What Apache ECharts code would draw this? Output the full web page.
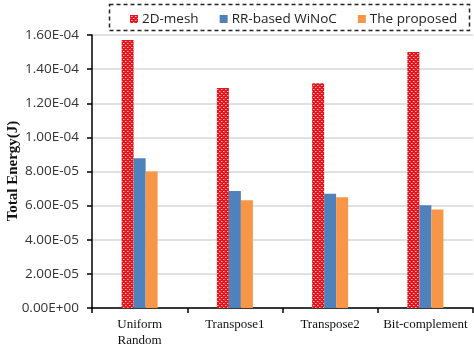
<!DOCTYPE html>
<html>
<head>
<meta charset="utf-8">
<script src="https://cdn.jsdelivr.net/npm/echarts@6/dist/echarts.min.js"></script>
<style>
  html, body { margin: 0; padding: 0; background: #fff; }
  #chart { width: 474px; height: 347px; }
</style>
</head>
<body>
<div id="chart"></div>
<script>
// Traffic patterns on the x axis
const categories = ['Uniform\nRandom', 'Transpose1', 'Transpose2', 'Bit-complement'];
// Total energy per architecture (J)
const mesh2D   = [1.57e-4, 1.29e-4, 1.317e-4, 1.50e-4];
const rrWiNoC  = [0.877e-4, 0.686e-4, 0.670e-4, 0.602e-4];
const proposed = [0.800e-4, 0.631e-4, 0.649e-4, 0.578e-4];
const seriesNames = ['2D-mesh', 'RR-based WiNoC', 'The proposed'];
const yAxisTitle = 'Total Energy(J)';
// Y tick labels, from 0 upward in steps of 2E-05
const yTickLabels = ['0.00E+00', '2.00E-05', '4.00E-05', '6.00E-05', '8.00E-05',
                     '1.00E-04', '1.20E-04', '1.40E-04', '1.60E-04'];

// Red dotted fill used for the 2D-mesh bars
function makeDotPattern() {
  const c = document.createElement('canvas');
  c.width = 4; c.height = 4;
  const g = c.getContext('2d');
  g.fillStyle = '#e8141c';
  g.fillRect(0, 0, 4, 4);
  g.fillStyle = '#f7b8bb';
  g.fillRect(1, 1, 1, 1);
  g.fillRect(3, 3, 1, 1);
  g.fillStyle = '#f06a70';
  g.fillRect(2, 1, 1, 1);
  g.fillRect(0, 3, 1, 1);
  return c;
}
const dotPattern = { image: makeDotPattern(), repeat: 'repeat' };

const chart = echarts.init(document.getElementById('chart'), null, { renderer: 'canvas' });

const barCommon = { type: 'bar', barWidth: 12, barGap: '0%', barCategoryGap: '0%' };

chart.setOption({
  animation: false,
  backgroundColor: '#ffffff',
  grid: { left: 92, right: 1, top: 35, bottom: 39, containLabel: false, outerBoundsMode: 'none' },
  legend: {
    data: seriesNames,
    left: 125,
    top: 7,
    itemWidth: 8,
    itemHeight: 8,
    itemGap: 21,
    icon: 'rect',
    textStyle: { fontFamily: 'Open Sans', fontSize: 13.5, color: '#222', padding: [0, 0, 0, -1] }
  },
  graphic: [{
    type: 'rect',
    shape: { x: 109.5, y: 4.5, width: 360, height: 26 },
    style: { fill: 'none', stroke: '#222', lineWidth: 1.5, lineDash: [4, 3] },
    silent: true
  }, {
    // rotated y-axis title
    type: 'text',
    x: 13,
    y: 171,
    rotation: Math.PI / 2,
    style: {
      text: yAxisTitle,
      fontFamily: 'Liberation Serif',
      fontWeight: 'bold',
      fontSize: 15,
      fill: '#111',
      align: 'center',
      verticalAlign: 'middle'
    },
    silent: true
  }],
  xAxis: {
    type: 'category',
    data: categories,
    axisLine: { lineStyle: { color: '#000', width: 1.5 } },
    axisTick: { show: true, length: 5, lineStyle: { color: '#000', width: 1.5 } },
    axisLabel: {
      interval: 0,
      margin: 9,
      fontFamily: 'Liberation Serif',
      fontSize: 13,
      color: '#111',
      lineHeight: 16
    }
  },
  yAxis: {
    type: 'value',
    min: 0,
    max: 1.6e-4,
    interval: 2e-5,
    axisLine: { show: true, lineStyle: { color: '#000', width: 1.5 } },
    axisTick: { show: true, length: 5, lineStyle: { color: '#000', width: 1.5 } },
    splitLine: { lineStyle: { color: '#d6d6d6', width: 1.5 } },
    axisLabel: {
      margin: 13,
      fontFamily: 'Open Sans',
      fontSize: 13.5,
      color: '#333',
      formatter: (v) => yTickLabels[Math.round(v / 2e-5)]
    }
  },
  series: [
    Object.assign({ name: seriesNames[0], data: mesh2D, itemStyle: { color: dotPattern } }, barCommon),
    Object.assign({ name: seriesNames[1], data: rrWiNoC, itemStyle: { color: '#4f81bd' } }, barCommon),
    Object.assign({ name: seriesNames[2], data: proposed, itemStyle: { color: '#f79646' } }, barCommon)
  ]
});
</script>
</body>
</html>
